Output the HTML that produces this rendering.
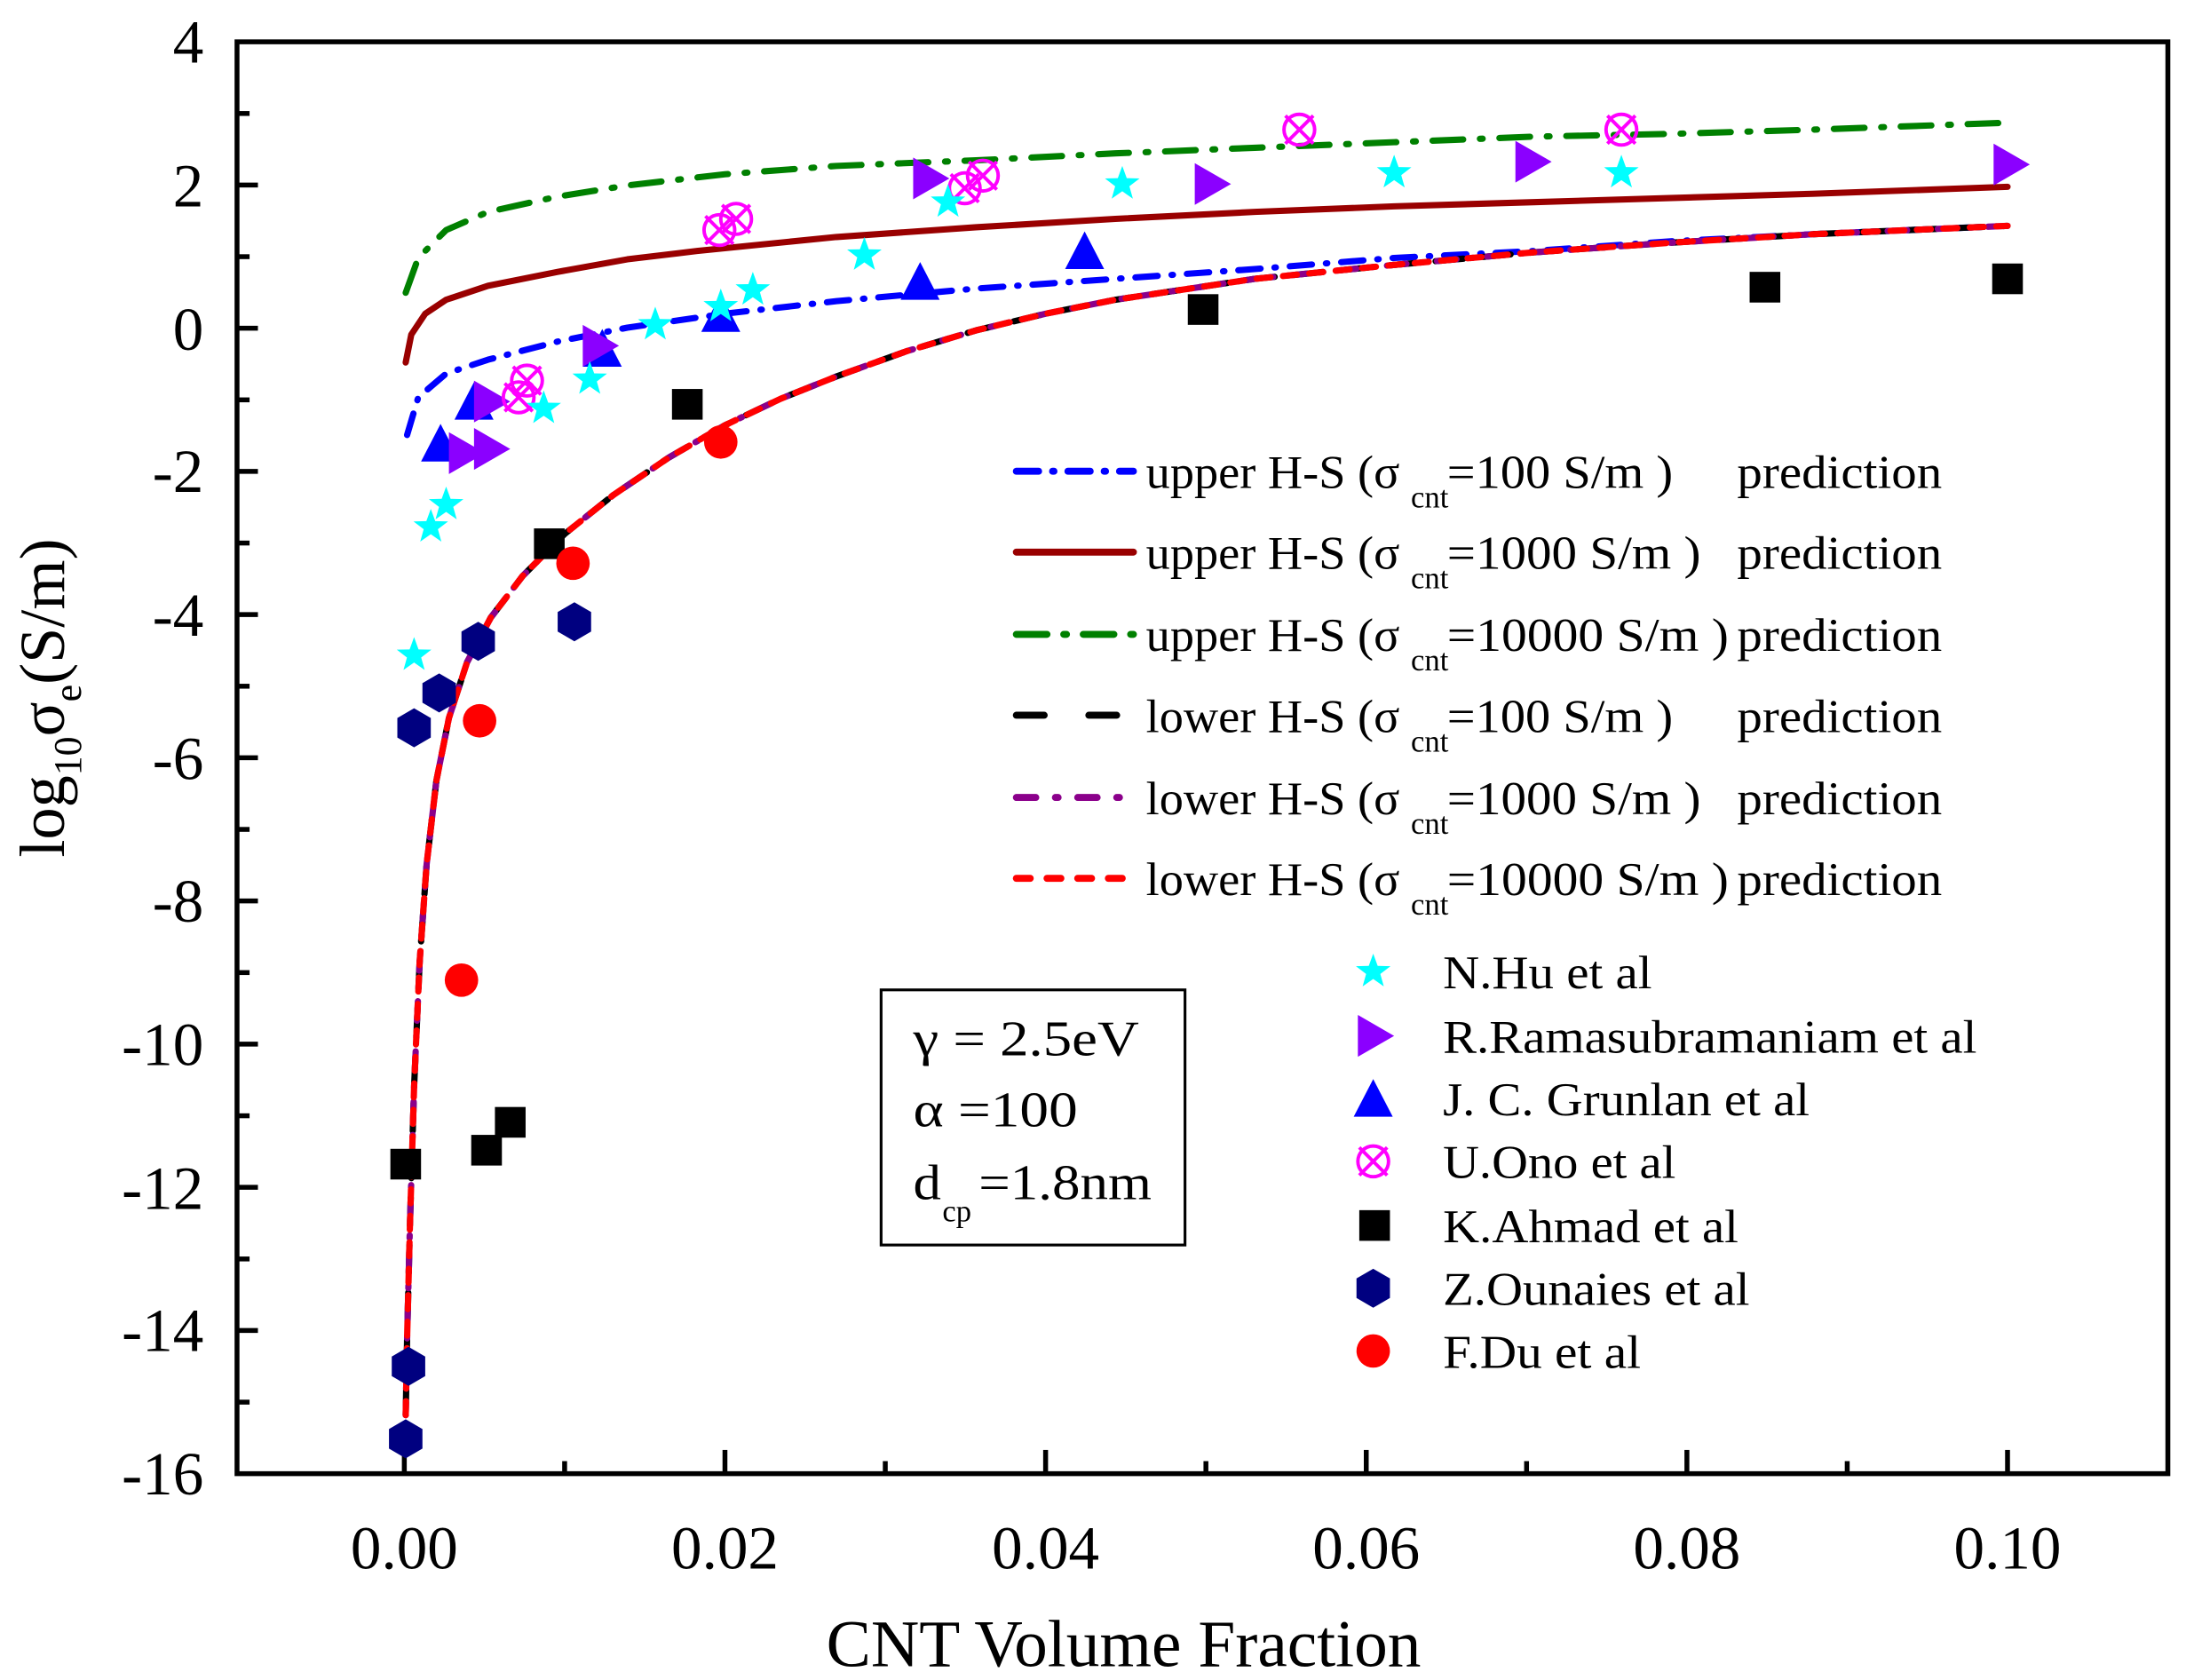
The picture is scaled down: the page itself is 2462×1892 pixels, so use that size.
<!DOCTYPE html>
<html><head><meta charset="utf-8"><style>
html,body{margin:0;padding:0;background:#fff;}
svg{display:block;}
text{font-family:"Liberation Serif","Times New Roman",serif;fill:#000;}
</style></head><body>
<svg width="2462" height="1892" viewBox="0 0 1568 1205" xmlns="http://www.w3.org/2000/svg">
<defs>
<symbol id="star" viewBox="-12 -12 24 24" overflow="visible"><polygon points="0,-13 3.2,-4.2 12.4,-4 5.1,1.6 7.6,10.5 0,5.2 -7.6,10.5 -5.1,1.6 -12.4,-4 -3.2,-4.2" fill="#00ffff"/></symbol>
</defs>
<rect width="1568" height="1205" fill="#fff"/>
<rect x="170" y="30" width="1385" height="1027" fill="none" stroke="#000" stroke-width="3.5"/>
<g stroke="#000" stroke-width="3.5">
<line x1="170" y1="132.7" x2="185" y2="132.7"/><line x1="170" y1="235.4" x2="185" y2="235.4"/><line x1="170" y1="338.1" x2="185" y2="338.1"/><line x1="170" y1="440.8" x2="185" y2="440.8"/><line x1="170" y1="543.5" x2="185" y2="543.5"/><line x1="170" y1="646.2" x2="185" y2="646.2"/><line x1="170" y1="748.9" x2="185" y2="748.9"/><line x1="170" y1="851.6" x2="185" y2="851.6"/><line x1="170" y1="954.3" x2="185" y2="954.3"/>
<line x1="170" y1="81.4" x2="179" y2="81.4"/><line x1="170" y1="184.1" x2="179" y2="184.1"/><line x1="170" y1="286.8" x2="179" y2="286.8"/><line x1="170" y1="389.5" x2="179" y2="389.5"/><line x1="170" y1="492.2" x2="179" y2="492.2"/><line x1="170" y1="594.9" x2="179" y2="594.9"/><line x1="170" y1="697.6" x2="179" y2="697.6"/><line x1="170" y1="800.3" x2="179" y2="800.3"/><line x1="170" y1="903" x2="179" y2="903"/><line x1="170" y1="1005.7" x2="179" y2="1005.7"/>
<line x1="290" y1="1057" x2="290" y2="1040"/><line x1="520" y1="1057" x2="520" y2="1040"/><line x1="750" y1="1057" x2="750" y2="1040"/><line x1="980" y1="1057" x2="980" y2="1040"/><line x1="1210" y1="1057" x2="1210" y2="1040"/><line x1="1440" y1="1057" x2="1440" y2="1040"/>
<line x1="405" y1="1057" x2="405" y2="1048"/><line x1="635" y1="1057" x2="635" y2="1048"/><line x1="865" y1="1057" x2="865" y2="1048"/><line x1="1095" y1="1057" x2="1095" y2="1048"/><line x1="1325" y1="1057" x2="1325" y2="1048"/>
</g>
<g font-size="44" text-anchor="end">
<text x="146" y="45">4</text><text x="146" y="148">2</text><text x="146" y="251">0</text><text x="146" y="353">-2</text><text x="146" y="456">-4</text><text x="146" y="559">-6</text><text x="146" y="661">-8</text><text x="146" y="764">-10</text><text x="146" y="867">-12</text><text x="146" y="969">-14</text><text x="146" y="1072">-16</text>
</g>
<g font-size="44" text-anchor="middle">
<text x="290" y="1125">0.00</text><text x="520" y="1125">0.02</text><text x="750" y="1125">0.04</text><text x="980" y="1125">0.06</text><text x="1210" y="1125">0.08</text><text x="1440" y="1125">0.10</text>
</g>
<text x="806" y="1195" font-size="48" text-anchor="middle">CNT Volume Fraction</text>
<g transform="translate(46,490) rotate(-90)">
<text x="-125" y="0" font-size="46">log<tspan font-size="28" dy="12">10</tspan><tspan dy="-12">σ</tspan><tspan font-size="28" dy="12">e</tspan><tspan dy="-12">(S/m)</tspan></text>
</g>
<g fill="none" stroke-width="4.5" stroke-linecap="round" stroke-linejoin="round">
<polyline stroke="#008000" stroke-dasharray="22 12 2 12" points="291,210 300,185 320,165 350,152 400,141 450,133 520,125 600,119 700,115 800,110 900,106 1000,102 1100,98 1200,96 1300,93 1440,88"/>
<polyline stroke="#990000" points="291,260 295,240 305,225 320,215 350,205 400,195 450,186 500,180 600,170 700,163 800,157 900,152 1000,148 1100,145 1200,142 1300,139 1440,134"/>
<polyline stroke="#0000ff" stroke-dasharray="16 10 1 10" points="292,312 300,285 320,268 350,258 400,245 450,235 520,225 600,216 700,207 800,200 900,193 1000,185 1100,180 1200,173 1300,168 1440,162"/>
<polyline stroke="#000" stroke-dasharray="20 14" points="291,1015 292,960 294,880 297,780 301,690 306,620 313,560 322,515 335,475 352,443 375,413 405,383 440,355 480,328 520,305 560,286 600,270 650,252 700,237 750,225 800,215 900,200 1000,190 1100,181 1200,174 1300,168 1440,162"/>
<polyline stroke="#8b008b" stroke-dasharray="14 10 2 10" stroke-dashoffset="5" points="291,1015 292,960 294,880 297,780 301,690 306,620 313,560 322,515 335,475 352,443 375,413 405,383 440,355 480,328 520,305 560,286 600,270 650,252 700,237 750,225 800,215 900,200 1000,190 1100,181 1200,174 1300,168 1440,162"/>
<polyline stroke="#ff0000" stroke-dasharray="10 9" points="291,1015 292,960 294,880 297,780 301,690 306,620 313,560 322,515 335,475 352,443 375,413 405,383 440,355 480,328 520,305 560,286 600,270 650,252 700,237 750,225 800,215 900,200 1000,190 1100,181 1200,174 1300,168 1440,162"/>
</g>
<g fill="#000">
<rect x="280" y="824" width="22" height="22"/><rect x="338" y="814" width="22" height="22"/><rect x="355" y="794" width="22" height="22"/><rect x="383" y="379" width="22" height="22"/><rect x="482" y="279" width="22" height="22"/><rect x="852" y="211" width="22" height="22"/><rect x="1255" y="195" width="22" height="22"/><rect x="1429" y="189" width="22" height="22"/>
</g>
<g fill="#000080">
<polygon points="291,1018 303,1025 303,1039 291,1046 279,1039 279,1025"/>
<polygon points="293,966 305,973 305,987 293,994 281,987 281,973"/>
<polygon points="297,508 309,515 309,529 297,536 285,529 285,515"/>
<polygon points="315,483 327,490 327,504 315,511 303,504 303,490"/>
<polygon points="343,446 355,453 355,467 343,474 331,467 331,453"/>
<polygon points="412,432 424,439 424,453 412,460 400,453 400,439"/>
</g>
<g fill="#ff0000">
<circle cx="331" cy="703" r="12"/><circle cx="344" cy="517" r="12"/><circle cx="411" cy="404" r="12"/><circle cx="517" cy="317" r="12"/>
</g>
<g fill="#0000ff">
<polygon points="316,304 330,331 302,331"/><polygon points="340,274 354,301 326,301"/><polygon points="432,236 446,263 418,263"/><polygon points="517,211 531,238 503,238"/><polygon points="660,188 674,215 646,215"/><polygon points="778,166 792,193 764,193"/>
</g>
<g fill="#8b00ff">
<polygon points="340,273 366,288 340,303"/><polygon points="322,310 348,325 322,340"/><polygon points="340,307 366,322 340,337"/><polygon points="655,113 681,128 655,143"/><polygon points="857,117 883,132 857,147"/><polygon points="1087,101 1113,116 1087,131"/><polygon points="1430,103 1456,118 1430,133"/><polygon points="418,233 444,248 418,263"/>
</g>
<g fill="none" stroke="#ff00ff" stroke-width="2.5">
<g transform="translate(372,285)"><circle r="11"/><line x1="-10" y1="-10" x2="10" y2="10"/><line x1="10" y1="-10" x2="-10" y2="10"/></g>
<g transform="translate(378,273)"><circle r="11"/><line x1="-10" y1="-10" x2="10" y2="10"/><line x1="10" y1="-10" x2="-10" y2="10"/></g>
<g transform="translate(516,165)"><circle r="11"/><line x1="-10" y1="-10" x2="10" y2="10"/><line x1="10" y1="-10" x2="-10" y2="10"/></g>
<g transform="translate(528,157)"><circle r="11"/><line x1="-10" y1="-10" x2="10" y2="10"/><line x1="10" y1="-10" x2="-10" y2="10"/></g>
<g transform="translate(692,135)"><circle r="11"/><line x1="-10" y1="-10" x2="10" y2="10"/><line x1="10" y1="-10" x2="-10" y2="10"/></g>
<g transform="translate(705,126)"><circle r="11"/><line x1="-10" y1="-10" x2="10" y2="10"/><line x1="10" y1="-10" x2="-10" y2="10"/></g>
<g transform="translate(932,93)"><circle r="11"/><line x1="-10" y1="-10" x2="10" y2="10"/><line x1="10" y1="-10" x2="-10" y2="10"/></g>
<g transform="translate(1163,93)"><circle r="11"/><line x1="-10" y1="-10" x2="10" y2="10"/><line x1="10" y1="-10" x2="-10" y2="10"/></g>
<g transform="translate(985,833)"><circle r="11"/><line x1="-10" y1="-10" x2="10" y2="10"/><line x1="10" y1="-10" x2="-10" y2="10"/></g>
</g>
<g>
<use href="#star" x="285" y="458" width="24" height="24"/><use href="#star" x="297" y="366" width="24" height="24"/><use href="#star" x="308" y="350" width="24" height="24"/><use href="#star" x="378" y="281" width="24" height="24"/><use href="#star" x="411" y="260" width="24" height="24"/><use href="#star" x="458" y="221" width="24" height="24"/><use href="#star" x="505" y="208" width="24" height="24"/><use href="#star" x="528" y="196" width="24" height="24"/><use href="#star" x="608" y="171" width="24" height="24"/><use href="#star" x="668" y="133" width="24" height="24"/><use href="#star" x="793" y="120" width="24" height="24"/><use href="#star" x="988" y="112" width="24" height="24"/><use href="#star" x="1151" y="112" width="24" height="24"/>
<use href="#star" x="973" y="685" width="24" height="24"/>
</g>
<g fill="none" stroke-width="5" stroke-linecap="round">
<line x1="729" y1="338" x2="813" y2="338" stroke="#0000ff" stroke-dasharray="16 10 1 10"/>
<line x1="729" y1="396" x2="813" y2="396" stroke="#990000"/>
<line x1="729" y1="455" x2="813" y2="455" stroke="#008000" stroke-dasharray="22 12 2 12"/>
<line x1="729" y1="513" x2="813" y2="513" stroke="#000" stroke-dasharray="20 32"/>
<line x1="729" y1="572" x2="813" y2="572" stroke="#8b008b" stroke-dasharray="14 14 2 14"/>
<line x1="729" y1="630" x2="813" y2="630" stroke="#ff0000" stroke-dasharray="10 12"/>
</g>
<g font-size="34">
<text x="822" y="350" textLength="182" lengthAdjust="spacingAndGlyphs">upper H-S (σ</text><text x="1012" y="364" font-size="22" textLength="27" lengthAdjust="spacingAndGlyphs">cnt</text><text x="1038" y="350" textLength="162" lengthAdjust="spacingAndGlyphs">=100 S/m )</text><text x="1246" y="350" textLength="147" lengthAdjust="spacingAndGlyphs">prediction</text>
<text x="822" y="408" textLength="182" lengthAdjust="spacingAndGlyphs">upper H-S (σ</text><text x="1012" y="422" font-size="22" textLength="27" lengthAdjust="spacingAndGlyphs">cnt</text><text x="1038" y="408" textLength="182" lengthAdjust="spacingAndGlyphs">=1000 S/m )</text><text x="1246" y="408" textLength="147" lengthAdjust="spacingAndGlyphs">prediction</text>
<text x="822" y="467" textLength="182" lengthAdjust="spacingAndGlyphs">upper H-S (σ</text><text x="1012" y="481" font-size="22" textLength="27" lengthAdjust="spacingAndGlyphs">cnt</text><text x="1038" y="467" textLength="202" lengthAdjust="spacingAndGlyphs">=10000 S/m )</text><text x="1246" y="467" textLength="147" lengthAdjust="spacingAndGlyphs">prediction</text>
<text x="822" y="525" textLength="182" lengthAdjust="spacingAndGlyphs">lower H-S (σ</text><text x="1012" y="539" font-size="22" textLength="27" lengthAdjust="spacingAndGlyphs">cnt</text><text x="1038" y="525" textLength="162" lengthAdjust="spacingAndGlyphs">=100 S/m )</text><text x="1246" y="525" textLength="147" lengthAdjust="spacingAndGlyphs">prediction</text>
<text x="822" y="584" textLength="182" lengthAdjust="spacingAndGlyphs">lower H-S (σ</text><text x="1012" y="598" font-size="22" textLength="27" lengthAdjust="spacingAndGlyphs">cnt</text><text x="1038" y="584" textLength="182" lengthAdjust="spacingAndGlyphs">=1000 S/m )</text><text x="1246" y="584" textLength="147" lengthAdjust="spacingAndGlyphs">prediction</text>
<text x="822" y="642" textLength="182" lengthAdjust="spacingAndGlyphs">lower H-S (σ</text><text x="1012" y="656" font-size="22" textLength="27" lengthAdjust="spacingAndGlyphs">cnt</text><text x="1038" y="642" textLength="202" lengthAdjust="spacingAndGlyphs">=10000 S/m )</text><text x="1246" y="642" textLength="147" lengthAdjust="spacingAndGlyphs">prediction</text>
</g>
<polygon points="974,728 1000,743 974,758" fill="#8b00ff"/>
<polygon points="985,774 999,801 971,801" fill="#0000ff"/>
<rect x="975" y="868" width="22" height="22" fill="#000"/>
<polygon points="985,910 997,917 997,931 985,938 973,931 973,917" fill="#000080"/>
<circle cx="985" cy="969" r="12" fill="#ff0000"/>
<g font-size="34">
<text x="1035" y="709" textLength="150" lengthAdjust="spacingAndGlyphs">N.Hu et al</text>
<text x="1035" y="755" textLength="383" lengthAdjust="spacingAndGlyphs">R.Ramasubramaniam et al</text>
<text x="1035" y="800" textLength="263" lengthAdjust="spacingAndGlyphs">J. C. Grunlan et al</text>
<text x="1035" y="845" textLength="167" lengthAdjust="spacingAndGlyphs">U.Ono et al</text>
<text x="1035" y="891" textLength="212" lengthAdjust="spacingAndGlyphs">K.Ahmad et al</text>
<text x="1035" y="936" textLength="220" lengthAdjust="spacingAndGlyphs">Z.Ounaies et al</text>
<text x="1035" y="981" textLength="142" lengthAdjust="spacingAndGlyphs">F.Du et al</text>
</g>
<rect x="632" y="710" width="218" height="183" fill="none" stroke="#000" stroke-width="2"/>
<g font-size="36">
<text x="655" y="757" textLength="162" lengthAdjust="spacingAndGlyphs">γ = 2.5eV</text>
<text x="655" y="808" textLength="118" lengthAdjust="spacingAndGlyphs">α =100</text>
<text x="655" y="860" textLength="20" lengthAdjust="spacingAndGlyphs">d</text><text x="676" y="876" font-size="22">cp</text><text x="702" y="860" textLength="124" lengthAdjust="spacingAndGlyphs">=1.8nm</text>
</g>
</svg>
</body></html>
